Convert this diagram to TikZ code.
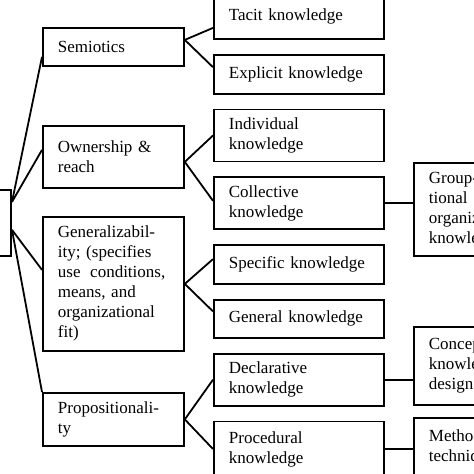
\documentclass[tikz,border=0pt]{standalone}
\usepackage{fontspec}
\setmainfont{Liberation Serif}
\usetikzlibrary{positioning}
\newcommand{\kfont}{\fontsize{17}{20}\selectfont}

\begin{document}
\begin{tikzpicture}[
    x=1pt, y=-1pt,
    node distance=14pt,
    box/.style={rectangle, draw=black, line width=1.8pt, inner xsep=15pt, inner ysep=0pt, align=left, font=\kfont},
    dimbox/.style={box, text width=111pt, anchor=north west},
    kbox/.style={box, text width=140pt},
    sidebox/.style={box, text width=170pt, anchor=north west},
    link/.style={line width=1.8pt}
  ]

  \useasboundingbox (0,0) rectangle (474,474);
  \clip (0,0) rectangle (474,474);

  % --- ROOT (cut off at the left) ---
  \node[box, minimum width=60pt, minimum height=66pt, anchor=north east] (root) at (12,189) {};

  % --- DIMENSIONS ---
  \node[dimbox, minimum height=38pt] (sem) at (42,27) {Semiotics};
  \node[dimbox, minimum height=62pt] (own) at (42,125) {Ownership \&\\reach};
  \node[dimbox, minimum height=134pt] (gen) at (42,216) {Generalizabil-\\ity; (specifies\\use\hspace{4pt} conditions,\\means, and\\organizational\\fit)};
  \node[dimbox, minimum height=53pt] (prop) at (42,392) {Propositionali-\\ty};

  % --- KNOWLEDGE TYPES ---
  \node[kbox, minimum height=44pt, anchor=north west] (tacit) at (213,-6) {Tacit knowledge};
  \node[kbox, minimum height=39pt, below=of tacit] (expl) {Explicit knowledge};
  \node[kbox, minimum height=52pt, below=of expl] (indiv) {Individual\\knowledge};
  \node[kbox, minimum height=52pt, below=of indiv] (coll) {Collective\\knowledge};
  \node[kbox, minimum height=39pt, below=of coll] (spec) {Specific knowledge};
  \node[kbox, minimum height=38pt, below=of spec] (genk) {General knowledge};
  \node[kbox, minimum height=52pt, below=of genk] (decl) {Declarative\\knowledge};
  \node[kbox, minimum height=55pt, below=of decl] (proc) {Procedural\\knowledge};

  % --- SUB TYPES (cut off at the right) ---
  \node[sidebox, minimum height=93pt] (group) at (413,162) {Group-/organiza-\\tional\\organizational\\knowledge};
  \node[sidebox, minimum height=78pt] (concept) at (413,326) {Conceptual\\knowledge\\design knowledge};
  \node[sidebox, minimum height=60pt] (methods) at (413,417) {Methods and\\techniques};

  % Forks
  \coordinate (rootA) at ([yshift=21pt]root.east);
  \coordinate (rootB) at ([yshift=-7pt]root.east);
  \coordinate (semR) at ([yshift=7pt]sem.east);
  \coordinate (ownR) at ([yshift=-5pt]own.east);

  % Connectors
  \draw[link] (rootA) -- ([yshift=-10pt]sem.west);
  \draw[link] (rootA) -- ([yshift=7pt]own.west);
  \draw[link] (rootB) -- ([yshift=14pt]gen.west);
  \draw[link] (rootB) -- (prop.north west);

  \draw[link] (semR) -- ([yshift=-11pt]tacit.west);
  \draw[link] (semR) -- ([yshift=7pt]expl.west);
  \draw[link] (ownR) -- (indiv.west);
  \draw[link] (ownR) -- ([yshift=2.5pt]coll.west);
  \draw[link] (gen.east) -- ([yshift=5.5pt]spec.west);
  \draw[link] (gen.east) -- ([yshift=7.5pt]genk.west);
  \draw[link] (prop.east) -- (decl.west);
  \draw[link] (prop.east) -- (proc.west);

  \draw[link] (coll.east) -- (coll.east -| group.west);
  \draw[link] (decl.east) -- (decl.east -| concept.west);
  \draw[link] (proc.east) -- (proc.east -| methods.west);

\end{tikzpicture}
\end{document}
